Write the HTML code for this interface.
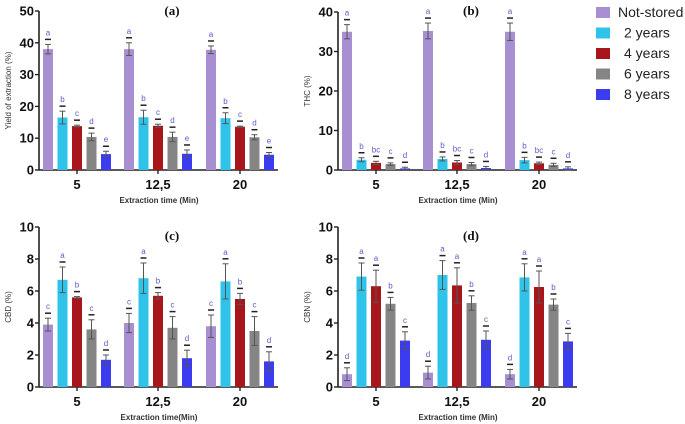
<!DOCTYPE html>
<html><head><meta charset="utf-8"><style>
body{margin:0;background:#fff;}
svg{display:block;font-family:"Liberation Sans",Arial,sans-serif;}
</style></head><body>
<svg id="c" width="685" height="424" viewBox="0 0 685 424"></svg>
<script>
const groups=["5","12,5","20"];
const seriesNames=["Not-stored","2 years","4 years","6 years","8 years"];
const colors=["#a78fd2","#2fc3ea","#a8161c","#858585","#3b3bf0"];
const aVals=[[38,38,37.8],[16.5,16.6,16.3],[13.8,13.9,13.6],[10.4,10.4,10.3],[5,5.1,4.8]];
const aErr=[[1.5,2,1.2],[2,2.2,1.7],[0.3,0.5,0.2],[1.2,1.5,0.8],[0.9,1.2,0.7]];
const aLet=["a","b","c","d","e"];
const bVals=[[35,35.2,35],[2.6,2.8,2.5],[1.8,1.9,1.7],[1.5,1.5,1.3],[0.4,0.5,0.4]];
const bErr=[[1.8,2,2.2],[0.5,0.5,0.7],[0.4,0.5,0.3],[0.3,0.4,0.4],[0.3,0.4,0.4]];
const bLet=["a","b","bc","c","d"];
const cVals=[[3.9,4.0,3.8],[6.7,6.8,6.6],[5.6,5.7,5.5],[3.6,3.7,3.5],[1.7,1.8,1.6]];
const cErr=[[0.4,0.6,0.7],[0.8,0.95,1.1],[0.05,0.2,0.35],[0.6,0.7,0.9],[0.3,0.5,0.6]];
const cLet=[["c","c","c"],["a","a","a"],["b","b","b"],["c","c","c"],["d","d","d"]];
const dVals=[[0.8,0.9,0.8],[6.9,7.0,6.85],[6.3,6.35,6.25],[5.2,5.25,5.15],[2.9,2.95,2.85]];
const dErr=[[0.4,0.4,0.3],[0.85,0.9,0.85],[1.0,1.1,1.0],[0.4,0.45,0.35],[0.55,0.55,0.5]];
const dLet=["d","a","a","b","c"];
const ticksA=[0,10,20,30,40,50], ticksB=[0,10,20,30,40], ticksC=[0,2,4,6,8,10];
const svg=document.getElementById('c');
const NS="http://www.w3.org/2000/svg";
function el(t,a,p){const e=document.createElementNS(NS,t);for(const k in a)e.setAttribute(k,a[k]);(p||svg).appendChild(e);return e;}
function panel(o){
  const g=el('g',{});
  
  
  const ymax=o.ticks[o.ticks.length-1];
  const y=v=>o.y0-(v/ymax)*(o.y0-o.yTop);
  const centers=[o.ax+38,o.ax+119,o.ax+201];
  const bx=(gi,si)=>centers[gi]+(si-2)*14.5;
  const ya=el('line',{x1:o.ax,y1:o.yTop,x2:o.ax,y2:o.y0,stroke:"#222","stroke-width":1.6},g);
  
  const xa=el('line',{x1:o.ax,y1:o.y0,x2:o.ax+239,y2:o.y0,stroke:"#222","stroke-width":1.6},g);
  
  o.ticks.forEach(t=>{
    el('line',{x1:o.ax-4,x2:o.ax,y1:y(t),y2:y(t),stroke:"#222","stroke-width":1.4},g);
    const tx=el('text',{x:o.ax-5,y:y(t)+4.5,"text-anchor":"end","font-size":13,"font-weight":"bold",fill:"#111"},g);
    tx.textContent=t;
    
  });
  groups.forEach((gn,gi)=>{
    el('line',{x1:centers[gi],x2:centers[gi],y1:o.y0,y2:o.y0+4,stroke:"#222","stroke-width":1.4},g);
    const tx=el('text',{x:centers[gi],y:o.y0+19,"text-anchor":"middle","font-size":13,"font-weight":"bold",fill:"#111"},g);
    tx.textContent=gn;
    
  });
  const xt=el('text',{x:o.ax+120,y:o.y0+33,"text-anchor":"middle","font-size":8,"font-weight":"bold",fill:"#333"},g);
  xt.textContent=o.xTitle;
  const yx=o.ax-28,ymid=(o.y0+o.yTop)/2;
  const yt=el('text',{x:yx,y:ymid,"text-anchor":"middle","font-size":8,fill:"#333",transform:`rotate(-90 ${yx} ${ymid})`},g);
  yt.textContent=o.yTitle;
  const pt=el('text',{x:o.ax+133,y:o.titleY,"text-anchor":"middle","font-size":13,"font-weight":"bold","font-family":"Liberation Serif,serif",fill:"#111"},g);
  pt.textContent=o.title;
  o.vals.forEach((sv,si)=>sv.forEach((v,gi)=>{
    const x=bx(gi,si);
    const r=el('rect',{x:x-5,y:y(v),width:10,height:o.y0-y(v),fill:colors[si]},g);
    
    const e=o.err[si][gi],hi=y(v+e),lo=y(Math.max(0,v-e));
    el('line',{x1:x,x2:x,y1:hi,y2:lo,stroke:"#555","stroke-width":1},g);
    el('line',{x1:x-3,x2:x+3,y1:hi,y2:hi,stroke:"#555","stroke-width":1},g);
    el('line',{x1:x-3,x2:x+3,y1:lo,y2:lo,stroke:"#555","stroke-width":1},g);
    el('line',{x1:x-3,x2:x+3,y1:hi-5,y2:hi-5,stroke:"#222","stroke-width":1.5},g);
    const L=Array.isArray(o.lets[si])?o.lets[si][gi]:o.lets[si];
    const lt=el('text',{x:x,y:hi-9,"text-anchor":"middle","font-size":8,fill:"#5a5ac8"},g);
    lt.textContent=L;
  }));
}
panel({name:'panel-a-yield',ax:39,y0:170,yTop:11,ticks:ticksA,vals:aVals,err:aErr,lets:aLet,title:'(a)',titleY:15,xTitle:'Extraction time (Min)',yTitle:'Yield of extraction (%)'});
panel({name:'panel-b-thc',ax:338,y0:170,yTop:12,ticks:ticksB,vals:bVals,err:bErr,lets:bLet,title:'(b)',titleY:15,xTitle:'Extraction time (Min)',yTitle:'THC (%)'});
panel({name:'panel-c-cbd',ax:39,y0:387,yTop:227,ticks:ticksC,vals:cVals,err:cErr,lets:cLet,title:'(c)',titleY:240,xTitle:'Extraction time(Min)',yTitle:'CBD (%)'});
panel({name:'panel-d-cbn',ax:338,y0:387,yTop:227,ticks:ticksC,vals:dVals,err:dErr,lets:dLet,title:'(d)',titleY:240,xTitle:'Extraction time (Min)',yTitle:'CBN (%)'});
seriesNames.forEach((n,i)=>{
  const yy=12+i*20.5;
  const g=el('g',{});
  
  el('rect',{x:596,y:yy-5,width:14,height:11,fill:colors[i]},g);
  const t=el('text',{x:i==0?618:624,y:yy+5,"font-size":14,fill:"#222"},g);
  t.textContent=n;
});
</script>
</body></html>
